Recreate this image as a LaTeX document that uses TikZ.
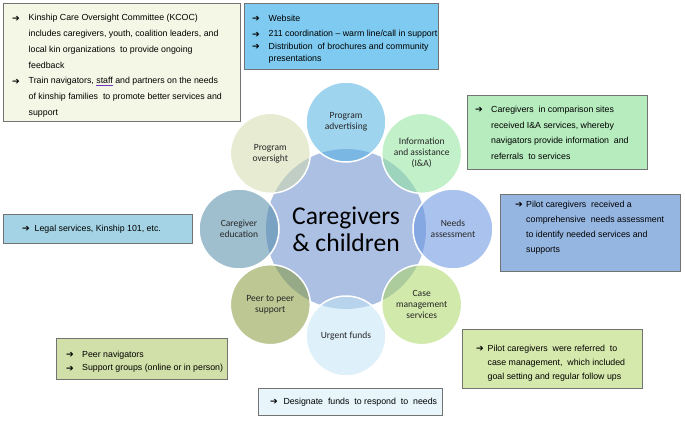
\documentclass[tikz,border=0pt]{standalone}
\usepackage{fontspec}
\setmainfont{Liberation Sans}
\newfontfamily\circfont{Carlito}
\newfontfamily\arrfont{DejaVu Sans}
\newcommand\arr{\raisebox{-0.3pt}{\arrfont\bfseries\fontsize{9.2}{9.2}\selectfont ➔}}
\newcommand\bl[1]{\makebox[#1][l]{\arr}}
\newcommand\ind[1]{\hspace*{#1}}
\newcommand\stf{{\color{blue!70!red!80}\underline{\color{black}staff}}}
\definecolor{hubc}{RGB}{172,192,228}
\definecolor{advc}{RGB}{81,177,225}
\definecolor{infc}{RGB}{145,229,157}
\definecolor{needc}{RGB}{101,147,225}
\definecolor{casec}{RGB}{173,215,101}
\definecolor{urgc}{RGB}{195,229,245}
\definecolor{peerc}{RGB}{135,153,59}
\definecolor{educ}{RGB}{81,139,169}
\definecolor{overc}{RGB}{211,219,173}
\definecolor{bOverc}{RGB}{244,247,230}
\definecolor{bAdvc}{RGB}{126,202,240}
\definecolor{bInfc}{RGB}{182,236,190}
\definecolor{bNeedc}{RGB}{150,182,226}
\definecolor{bCasec}{RGB}{214,233,172}
\definecolor{bEduc}{RGB}{163,211,228}
\definecolor{bPeerc}{RGB}{209,223,168}
\definecolor{bUrgc}{RGB}{232,246,252}
\definecolor{boxline}{RGB}{115,115,115}
\begin{document}
\begin{tikzpicture}[x=1pt,y=-1pt,
  box/.style={draw=boxline, line width=0.8pt, inner sep=0, anchor=north west},
  txt/.style={anchor=base west, inner sep=0},
  petal/.style={circle, minimum size=80pt, inner sep=0, fill opacity=0.55, text opacity=1, draw=white, draw opacity=1, line width=1.5pt, align=center, text=black!85, font=\circfont\fontsize{9.5}{11}\selectfont}]
\useasboundingbox[fill=white] (0,0) rectangle (685,422);
% hub
\node[circle, fill=hubc, minimum size=160pt, inner sep=0, align=center, font=\circfont\fontsize{25.6}{27.4}\selectfont] (hub) at (346,229) {Caregivers\\\& children};
% petals
\node[petal, fill=advc] (adv) at (346,122) {Program\\advertising};
\node[petal, fill=infc] (inf) at (421.7,153.3) {Information\\and assistance\\(I\&A)};
\node[petal, fill=needc] (need) at (453,229) {Needs\\assessment};
\node[petal, fill=casec] (case) at (421.7,304.7) {Case\\management\\services};
\node[petal, fill=urgc] (urg) at (346,336) {Urgent funds};
\node[petal, fill=peerc] (peer) at (270.3,304.7) {Peer to peer\\support};
\node[petal, fill=educ] (edu) at (239,229) {Caregiver\\education};
\node[petal, fill=overc] (over) at (270.3,153.3) {Program\\oversight};
% boxes
\node[box, fill=bOverc, minimum width=237pt, minimum height=118pt] (bOver) at (3,3) {};
\node[box, fill=bAdvc, minimum width=194pt, minimum height=66pt] (bAdv) at (244,3) {};
\node[box, fill=bInfc, minimum width=180pt, minimum height=74pt] (bInf) at (467,95) {};
\node[box, fill=bNeedc, minimum width=180pt, minimum height=77pt] (bNeed) at (500,194) {};
\node[box, fill=bCasec, minimum width=180pt, minimum height=59pt] (bCase) at (462,329) {};
\node[box, fill=bEduc, minimum width=189pt, minimum height=29pt] (bEdu) at (3,214) {};
\node[box, fill=bPeerc, minimum width=171pt, minimum height=41pt] (bPeer) at (56,338) {};
\node[box, fill=bUrgc, minimum width=184pt, minimum height=27pt] (bUrg) at (258,388) {};
% box texts
\node[txt, font=\fontsize{8.8}{15.7}\selectfont] (tOver) at (12,21) {\begin{tabular}[t]{@{}l@{}}
\bl{16.5pt}Kinship Care Oversight Committee (KCOC)\\
\ind{16.5pt}includes caregivers, youth, coalition leaders, and\\
\ind{16.5pt}local kin organizations\ \ to provide ongoing\\
\ind{16.5pt}feedback\\
\bl{16.5pt}Train navigators, \stf{} and partners on the needs\\
\ind{16.5pt}of kinship families\ \ to promote better services and\\
\ind{16.5pt}support
\end{tabular}};
\node[txt, font=\fontsize{8.8}{12.4}\selectfont] (tAdv) at (252,21.5) {\begin{tabular}[t]{@{}l@{}}
\bl{16.5pt}Website\\[3pt]
\bl{16.5pt}211 coordination -- warm line/call in support\\
\bl{16.5pt}Distribution\ \ of brochures and community\\
\ind{16.5pt}presentations
\end{tabular}};
\node[txt, font=\fontsize{8.8}{15.6}\selectfont] (tInf) at (475,112.5) {\begin{tabular}[t]{@{}l@{}}
\bl{16pt}Caregivers\ \ in comparison sites\\
\ind{16pt}received I\&A services, whereby\\
\ind{16pt}navigators provide information\ \ and\\
\ind{16pt}referrals\ \ to services
\end{tabular}};
\node[txt, font=\fontsize{8.8}{15}\selectfont] (tNeed) at (515,207.5) {\begin{tabular}[t]{@{}l@{}}
\bl{11pt}Pilot caregivers\ \ received a\\
\ind{11pt}comprehensive\ \ needs assessment\\
\ind{11pt}to identify needed services and\\
\ind{11pt}supports
\end{tabular}};
\node[txt, font=\fontsize{8.8}{14.2}\selectfont] (tCase) at (476,351) {\begin{tabular}[t]{@{}l@{}}
\bl{11.5pt}Pilot caregivers\ \ were referred\ \ to\\
\ind{11.5pt}case management,\ \ which included\\
\ind{11.5pt}goal setting and regular follow ups
\end{tabular}};
\node[txt, font=\fontsize{8.8}{14}\selectfont] (tEdu) at (22,231) {\bl{12.5pt}Legal services, Kinship 101, etc.};
\node[txt, font=\fontsize{8.8}{13.3}\selectfont] (tPeer) at (66,357.5) {\begin{tabular}[t]{@{}l@{}}
\bl{16pt}Peer navigators\\
\bl{16pt}Support groups (online or in person)
\end{tabular}};
\node[txt, font=\fontsize{8.8}{14}\selectfont] (tUrg) at (270,404) {\bl{13.3pt}Designate\ \ funds\ \ to respond\ \ to\ \ needs};
\end{tikzpicture}
\end{document}
